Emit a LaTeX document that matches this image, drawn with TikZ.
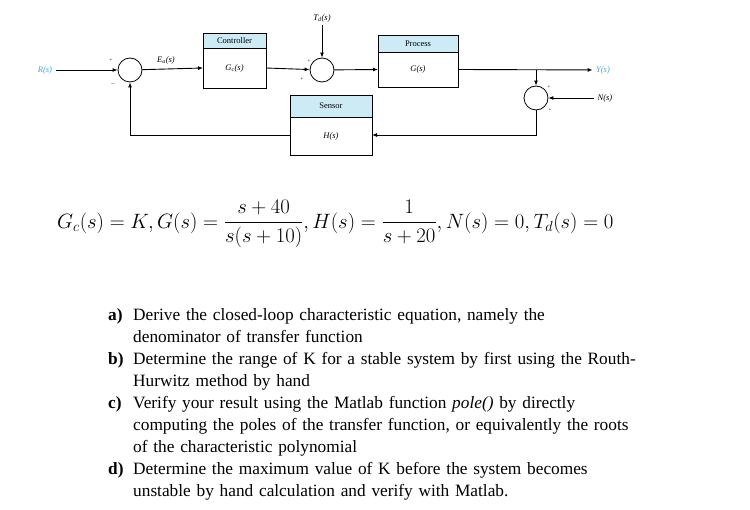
\documentclass[tikz,border=0pt]{standalone}
\usepackage{fontspec}
\setmainfont{Liberation Serif}
\usepackage{amsmath}
\usetikzlibrary{arrows.meta}
\definecolor{hdr}{HTML}{CDEBF5}
\definecolor{sig}{HTML}{3AA8D8}
\newcommand{\itm}[1]{\par\noindent\hangindent=25pt\hangafter=1\makebox[25pt][l]{\textbf{#1)}}}
\newcommand{\nl}{\hfil\break}
\begin{document}
\begin{tikzpicture}[x=1pt,y=-1pt,
  ln/.style={line width=0.9pt,-{Latex[length=5pt,width=4pt]}},
  sm/.style={font=\fontsize{8.5}{9}\selectfont\itshape},
  hd/.style={font=\fontsize{8.5}{9}\selectfont},
  sumc/.style={draw,circle,line width=0.8pt,minimum size=24pt,inner sep=0pt}]
\useasboundingbox (0,0) rectangle (750,510);
\newcommand{\blk}[6]{%
  \fill[hdr] (#2,#3) rectangle (#4,#5);
  \draw[line width=0.8pt] (#2,#3) rectangle (#4,#6);
  \draw[line width=0.8pt] (#2,#5) -- (#4,#5);
  \coordinate (#1) at ({(#2+#4)/2},{(#5+#6)/2});
  \coordinate (#1w) at (#2,{(#5+#6)/2});
  \coordinate (#1e) at (#4,{(#5+#6)/2});}
\blk{ctl}{203}{33}{266}{48}{88}
\blk{proc}{378}{35}{458}{52}{87}
\blk{sens}{290}{95}{372}{117}{155}
\node[hd] (tctl) at (234.5,40.5) {Controller};
\node[hd] (tproc) at (418,43.5) {Process};
\node[hd] (tsens) at (331,106) {Sensor};
\node[sm] (gc) at (ctl) {G\textsubscript{c}(s)};
\node[sm] (gp) at (proc) {G(s)};
\node[sm] (hs) at (sens) {H(s)};
\node[sumc] (s1) at (130,70) {};
\node[sumc] (s2) at (322,70) {};
\node[sumc] (s3) at (536,98) {};
\node[sm,text=sig] (r) at (45,70) {R(s)};
\node[sm,text=sig] (y) at (603,70) {Y(s)};
\node[sm] (n) at (605,98) {N(s)};
\node[sm] (td) at (322,18) {T\textsubscript{d}(s)};
\node[sm] (ea) at (166,60) {E\textsubscript{a}(s)};
\node[font=\tiny] (p1) at (111,60) {+};
\node[font=\tiny] (m1) at (113,84) {$-$};
\node[font=\tiny] (p2) at (309,61) {+};
\node[font=\tiny] (p2b) at (302,79) {+};
\node[font=\tiny] (p3) at (549,87) {+};
\node[font=\tiny] (p3b) at (550,110) {+};
\coordinate (tap) at (536,70);
\coordinate (fb) at (536,135);
\coordinate (fb2) at (130,135);
\draw[ln] (r) -- (s1);
\draw[ln] (s1) -- (ctlw);
\draw[ln] (ctle) -- (s2);
\draw[ln] (td) -- (s2);
\draw[ln] (s2) -- (procw);
\draw[ln] (proce) -- (y);
\draw[ln] (tap) -- (s3);
\draw[ln] (n) -- (s3);
\draw[ln] (s3) -- (fb) -- (372,135);
\draw[ln] (290,135) -- (fb2) -- (s1);
\node[anchor=west,font=\fontsize{22}{24}\selectfont,inner sep=0pt] (eq) at (57,224)
 {$G_c(s)=K, G(s)=\dfrac{s+40}{s(s+10)}, H(s)=\dfrac{1}{s+20}, N(s)=0, T_d(s)=0$};
\node[anchor=north west,text width=600pt,font=\fontsize{17.3}{22}\selectfont,inner sep=0pt] (items) at (108,298)
{\itm{a}Derive the closed-loop characteristic equation, namely the\nl denominator of transfer function
\itm{b}Determine the range of K for a stable system by first using the Routh-\nl Hurwitz method by hand
\itm{c}Verify your result using the Matlab function \textit{pole()} by directly\nl computing the poles of the transfer function, or equivalently the roots\nl of the characteristic polynomial
\itm{d}Determine the maximum value of K before the system becomes\nl unstable by hand calculation and verify with Matlab.\par};
\end{tikzpicture}
\end{document}
